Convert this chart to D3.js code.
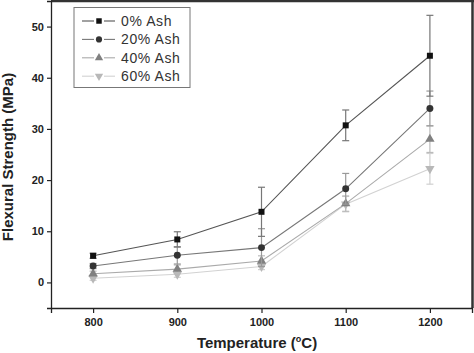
<!DOCTYPE html>
<html>
<head>
<meta charset="utf-8">
<script src="https://cdn.jsdelivr.net/npm/d3@7"></script>
<style>
  body { margin: 0; background: #fff; }
  svg { display: block; font-family: "Liberation Sans", Arial, sans-serif; }
</style>
</head>
<body>
<div id="chart"></div>
<script>
const temps = [800, 900, 1000, 1100, 1200]
const seriesNames = ['0% Ash', '20% Ash', '40% Ash', '60% Ash']
const ash0  = [5.2, 8.4, 13.8, 30.7, 44.3]
const ash20 = [3.2, 5.3, 6.8, 18.3, 34.0]
const ash40 = [1.7, 2.6, 4.2, 15.4, 28.0]
const ash60 = [0.8, 1.6, 3.1, 15.3, 22.2]
const err0  = [0.5, 1.5, 4.8, 3.0, 7.9]
const err20 = [0.5, 1.7, 3.7, 3.0, 3.4]
const err40 = [0.5, 0.8, 1.0, 1.5, 2.6]
const err60 = [0.4, 0.6, 0.6, 1.5, 3.0]
const xTicks = [800, 900, 1000, 1100, 1200]
const yTicks = [0, 10, 20, 30, 40, 50]

const values = [ash0, ash20, ash40, ash60]
const errors = [err0, err20, err40, err60]
const symbols = [d3.symbolSquare, d3.symbolCircle, d3.symbolTriangle, d3.symbolTriangle]
const markColor = ['#111', '#333', '#808080', '#b8b8b8']
const lineColor = ['#555', '#777', '#aaa', '#d2d2d2']
const errColor  = ['#777', '#999', '#bbb', '#d0d0d0']

const W = 474, H = 353
const M = { top: 1, right: 2, bottom: 45, left: 51 }

const svg = d3.select('#chart').append('svg')
  .attr('width', W).attr('height', H)

const x = d3.scaleLinear().domain([750, 1250]).range([M.left, W - M.right])
const y = d3.scaleLinear().domain([-5, 55]).range([H - M.bottom, M.top])

// frame: top and right heavier
svg.append('line').attr('x1', M.left).attr('x2', W).attr('y1', 1).attr('y2', 1)
  .attr('stroke', '#333').attr('stroke-width', 2.5)
svg.append('line').attr('x1', W - 1.5).attr('x2', W - 1.5).attr('y1', 0).attr('y2', H - M.bottom)
  .attr('stroke', '#333').attr('stroke-width', 2.5)

// axes
const fmt = d3.format('d')
const xAxis = svg.append('g').attr('transform', `translate(0,${H - M.bottom})`)
xAxis.call(d3.axisBottom(x).tickValues(d3.range(750, 1251, 50)).tickSize(3).tickFormat(''))
xAxis.call(d3.axisBottom(x).tickValues(xTicks).tickSize(5).tickPadding(5).tickFormat(fmt))
xAxis.selectAll('path.domain').attr('stroke', '#222').attr('stroke-width', 1.3)
xAxis.selectAll('.tick line').attr('stroke', '#222').attr('stroke-width', 1.2)
xAxis.selectAll('text').attr('font-size', 11).attr('font-weight', 'bold')
  .attr('fill', '#222').attr('font-family', '"Liberation Sans", Arial, sans-serif')

const yAxis = svg.append('g').attr('transform', `translate(${M.left},0)`)
yAxis.call(d3.axisLeft(y).tickValues(d3.range(-5, 56, 5)).tickSize(2).tickFormat(''))
yAxis.call(d3.axisLeft(y).tickValues(yTicks).tickSize(4).tickPadding(3).tickFormat(fmt))
yAxis.selectAll('path.domain').attr('stroke', '#222').attr('stroke-width', 1.3)
yAxis.selectAll('.tick line').attr('stroke', '#222').attr('stroke-width', 1.2)
yAxis.selectAll('text').attr('font-size', 11).attr('font-weight', 'bold')
  .attr('fill', '#222').attr('font-family', '"Liberation Sans", Arial, sans-serif')

// axis titles
const xt = svg.append('text').attr('x', 257).attr('y', 348).attr('text-anchor', 'middle')
  .attr('font-size', 15).attr('font-weight', 'bold').attr('fill', '#222')
xt.append('tspan').text('Temperature (')
xt.append('tspan').attr('font-size', 9).attr('dy', -6).text('o')
xt.append('tspan').attr('dy', 6).text('C)')

svg.append('text').attr('transform', `translate(13,157) rotate(-90)`)
  .attr('text-anchor', 'middle').attr('font-size', 15).attr('font-weight', 'bold')
  .attr('fill', '#222').text('Flexural Strength (MPa)')

// series, drawn from lightest to darkest
const line = d3.line().x((d, i) => x(temps[i])).y(d => y(d))
for (let s = values.length - 1; s >= 0; s--) {
  const g = svg.append('g')
  g.append('path').datum(values[s]).attr('d', line)
    .attr('fill', 'none').attr('stroke', lineColor[s]).attr('stroke-width', 1.1)
  values[s].forEach((v, i) => {
    const cx = x(temps[i]), e = errors[s][i]
    g.append('line').attr('x1', cx).attr('x2', cx).attr('y1', y(v - e)).attr('y2', y(v + e))
      .attr('stroke', errColor[s]).attr('stroke-width', 1.2)
    for (const yy of [v - e, v + e]) {
      g.append('line').attr('x1', cx - 3.5).attr('x2', cx + 3.5).attr('y1', y(yy)).attr('y2', y(yy))
        .attr('stroke', errColor[s]).attr('stroke-width', 1.2)
    }
    g.append('path')
      .attr('d', d3.symbol(symbols[s], s === 0 ? 36 : 38)())
      .attr('transform', `translate(${cx},${y(v)})${s === 3 ? ' rotate(180)' : ''}`)
      .attr('fill', markColor[s])
  })
}

// legend
const lg = svg.append('g')
lg.append('rect').attr('x', 74).attr('y', 7.5).attr('width', 116).attr('height', 80)
  .attr('fill', '#fff').attr('stroke', '#777').attr('stroke-width', 1)
seriesNames.forEach((name, s) => {
  const ly = 21 + s * 18.4
  for (const [a, b] of [[82, 94], [104, 115]]) {
    lg.append('line').attr('x1', a).attr('x2', b).attr('y1', ly).attr('y2', ly)
      .attr('stroke', lineColor[s]).attr('stroke-width', 1.1)
  }
  lg.append('path').attr('d', d3.symbol(symbols[s], 30)())
    .attr('transform', `translate(99,${ly})${s === 3 ? ' rotate(180)' : ''}`)
    .attr('fill', markColor[s])
  lg.append('text').attr('x', 121).attr('y', ly + 5).attr('font-size', 14)
    .attr('letter-spacing', 0.6).attr('fill', '#333').text(name)
})
</script>
</body>
</html>
